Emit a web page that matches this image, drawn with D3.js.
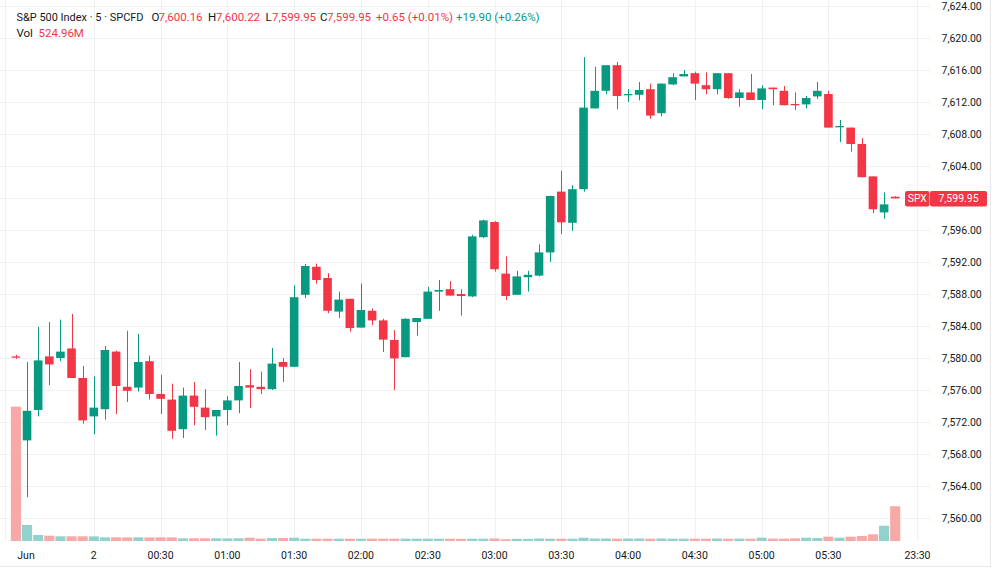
<!DOCTYPE html>
<html>
<head>
<meta charset="utf-8">
<script src="https://cdn.jsdelivr.net/npm/d3@7/dist/d3.min.js"></script>
<style>
  html, body { margin: 0; padding: 0; background: #ffffff; }
  svg { display: block; font-family: Roboto, "Noto Sans", sans-serif; }
</style>
</head>
<body>
<svg id="chart" width="1000" height="575"></svg>
<script>
// ---- DATA (5-minute bars, index 0 = previous close) ----
const opens  = [7580.2,7569.7,7573.5,7580.2,7580.0,7581.2,7577.5,7572.7,7573.6,7580.8,
                7576.4,7576.3,7579.6,7575.5,7574.8,7571.1,7575.3,7573.8,7572.7,7573.5,
                7574.7,7576.6,7576.4,7576.1,7579.5,7578.9,7587.9,7591.4,7590.0,7585.8,
                7587.4,7583.8,7585.9,7584.7,7582.25,7580.1,7584.5,7584.9,7588.3,7588.6,
                7588.0,7587.7,7595.1,7597.0,7590.55,7587.9,7590.1,7590.3,7593.2,7600.8,
                7596.9,7601.1,7611.2,7613.4,7616.6,7612.95,7612.9,7613.6,7610.6,7614.2,
                7615.2,7615.6,7614.1,7613.6,7615.6,7612.5,7613.2,7612.25,7613.8,7613.4,
                7611.75,7611.7,7612.7,7613.0,7608.95,7608.8,7606.75,7602.7,7598.2,7600.16];
const highs  = [7580.4,7579.5,7583.9,7584.5,7584.8,7585.5,7579.0,7577.7,7581.5,7580.9,
                7583.4,7583.0,7580.3,7577.9,7576.8,7576.3,7577.0,7576.1,7573.5,7575.2,
                7579.5,7578.6,7578.3,7581.25,7580.0,7589.1,7591.75,7591.8,7590.6,7588.3,
                7587.4,7589.3,7586.2,7584.9,7583.5,7584.96,7585.0,7588.9,7589.75,7589.6,
                7588.6,7595.4,7597.3,7597.1,7592.7,7590.9,7590.9,7594.2,7600.3,7603.4,
                7601.6,7617.6,7616.4,7616.6,7617.0,7613.6,7614.5,7614.3,7614.3,7615.6,
                7616.0,7615.8,7615.7,7615.6,7615.6,7613.6,7615.5,7614.1,7613.8,7614.0,
                7613.2,7612.75,7614.5,7613.4,7609.75,7608.8,7607.5,7602.7,7600.7,7600.22];
const lows   = [7579.9,7562.6,7572.7,7576.6,7579.6,7577.5,7571.8,7570.5,7572.3,7573.0,
                7574.5,7575.8,7574.8,7573.0,7569.9,7570.0,7571.6,7571.0,7570.3,7571.6,
                7573.1,7573.75,7575.5,7576.0,7577.0,7578.9,7587.5,7589.3,7585.6,7585.0,
                7583.3,7583.8,7584.1,7580.75,7576.0,7580.1,7582.8,7584.9,7585.9,7587.8,
                7585.3,7587.6,7595.0,7590.8,7587.25,7587.9,7588.3,7590.2,7592.0,7595.5,
                7595.9,7600.8,7611.2,7613.0,7611.1,7612.0,7612.2,7609.9,7610.2,7614.1,
                7615.2,7612.25,7612.96,7612.96,7612.4,7611.4,7612.25,7611.1,7611.6,7611.6,
                7611.0,7611.2,7612.4,7608.8,7607.0,7605.8,7602.6,7598.1,7597.4,7599.95];
const closes = [7580.05,7573.4,7579.7,7579.2,7580.8,7577.5,7572.2,7573.8,7581.0,7576.5,
                7575.9,7579.5,7575.5,7574.9,7570.9,7575.3,7573.9,7572.6,7573.5,7574.7,
                7576.5,7576.3,7576.1,7579.3,7578.9,7587.6,7591.5,7589.75,7585.9,7587.3,
                7583.75,7586.0,7584.7,7582.3,7579.95,7584.9,7585.0,7588.3,7588.5,7587.8,
                7587.75,7595.2,7597.2,7591.1,7587.75,7590.2,7590.4,7593.2,7600.25,7596.96,
                7601.1,7611.3,7613.4,7616.6,7612.75,7613.0,7613.5,7610.3,7614.3,7615.1,
                7615.5,7614.3,7613.6,7615.6,7612.5,7613.2,7612.25,7613.7,7613.6,7611.6,
                7611.7,7612.5,7613.4,7608.8,7609.0,7606.75,7602.6,7598.6,7599.2,7599.95];
// volume in millions
const volumes = [2030,242,91,80,71,71,71,70,56,56,
                 55,56,55,56,55,41,41,40,41,40,
                 41,50,35,45,45,50,35,35,35,35,
                 35,35,35,35,35,35,35,35,35,35,
                 33,35,35,38,26,33,33,38,35,35,
                 35,50,38,38,36,38,38,36,38,35,
                 35,35,35,38,35,36,35,50,36,36,
                 40,50,45,65,50,65,76,101,231,524.96];
const yTicks = [7560,7564,7568,7572,7576,7580,7584,7588,7592,7596,7600,7604,7608,7612,7616,7620,7624];
const xTickIdx = [-1,7,13,19,25,31,37,43,49,55,61,67,73,81];
const xTickLabels = ["Jun","2","00:30","01:00","01:30","02:00","02:30","03:00","03:30","04:00","04:30","05:00","05:30","23:30"];

const UP = "#089981", DOWN = "#F23645";
const UPV = "#92d2cc", DOWNV = "#f7a9a7";
const TXT = "#131722", GRID = "#eff1f5";

const svg = d3.select("#chart");
const n = closes.length;
const x = d3.scaleLinear().domain([0, n - 1]).range([15.9, 895.2]);
const step = x(1) - x(0);
const y = d3.scaleLinear().domain([7560, 7624]).range([518, 6]);
const yv = d3.scaleLinear().domain([0, 2000]).range([541, 408.7]);

const bars = d3.range(n).map(i => ({i, o: opens[i], h: highs[i], l: lows[i], c: closes[i], v: volumes[i], up: closes[i] >= opens[i]}));

// grid
const g = svg.append("g");
g.selectAll("line.h").data(yTicks).join("line")
  .attr("x1", 0).attr("x2", 930)
  .attr("y1", d => Math.round(y(d)) + 0.5).attr("y2", d => Math.round(y(d)) + 0.5)
  .attr("stroke", GRID).attr("stroke-width", 1);
g.selectAll("line.v").data(xTickIdx).join("line")
  .attr("x1", d => Math.round(x(d)) + 0.5).attr("x2", d => Math.round(x(d)) + 0.5)
  .attr("y1", 0).attr("y2", 541)
  .attr("stroke", GRID).attr("stroke-width", 1);

// frame
svg.append("line").attr("x1", 0).attr("x2", 990.5).attr("y1", 566.5).attr("y2", 566.5).attr("stroke", "#e6e8ee");
svg.append("line").attr("x1", 990.5).attr("x2", 990.5).attr("y1", 0).attr("y2", 566.5).attr("stroke", "#e6e8ee");

// volume
svg.append("g").selectAll("rect").data(bars).join("rect")
  .attr("x", d => x(d.i) - step / 2 + 0.5)
  .attr("width", step - 1)
  .attr("y", d => yv(d.v))
  .attr("height", d => yv(0) - yv(d.v))
  .attr("fill", d => d.up ? UPV : DOWNV);

// candles
const cg = svg.append("g");
cg.selectAll("line").data(bars).join("line")
  .attr("x1", d => Math.round(x(d.i)) + 0.5).attr("x2", d => Math.round(x(d.i)) + 0.5)
  .attr("y1", d => y(d.h)).attr("y2", d => y(d.l))
  .attr("stroke", d => d.up ? UP : DOWN).attr("stroke-width", 1);
const bw = 8.6;
cg.selectAll("rect").data(bars).join("rect")
  .attr("x", d => x(d.i) - bw / 2)
  .attr("width", bw)
  .attr("y", d => y(Math.max(d.o, d.c)))
  .attr("height", d => Math.max(1.3, Math.abs(y(d.o) - y(d.c))))
  .attr("fill", d => d.up ? UP : DOWN);

const last = closes[n - 1];
const ly = y(last);

// y axis labels (hidden where the last-price label covers them)
svg.append("g").selectAll("text").data(yTicks.filter(d => Math.abs(y(d) - ly) > 12)).join("text")
  .attr("x", 941.5).attr("y", d => y(d))
  .attr("dy", "0.35em")
  .attr("font-size", 10.5).attr("fill", TXT)
  .text(d => d3.format(",.2f")(d));

// x axis labels
svg.append("g").selectAll("text").data(xTickIdx).join("text")
  .attr("x", (d, k) => k === 0 ? 26 : x(d))
  .attr("y", 555).attr("dy", "0.35em")
  .attr("text-anchor", "middle")
  .attr("font-size", 10.5).attr("fill", TXT)
  .text((d, k) => xTickLabels[k]);

// last price label
svg.append("rect").attr("x", 905).attr("y", ly - 7.5).attr("width", 24.5).attr("height", 15.5).attr("rx", 2).attr("fill", DOWN);
svg.append("rect").attr("x", 930).attr("y", ly - 7.5).attr("width", 57).attr("height", 15.5).attr("rx", 2).attr("fill", DOWN);
svg.append("text").attr("x", 917.3).attr("y", ly).attr("dy", "0.35em").attr("text-anchor", "middle")
  .attr("font-size", 10.5).attr("fill", "#fff").text("SPX");
svg.append("text").attr("x", 958.5).attr("y", ly).attr("dy", "0.35em").attr("text-anchor", "middle")
  .attr("font-size", 10.5).attr("fill", "#fff").text(d3.format(",.2f")(last));

// header legend
const hdr = [
  {x: 16.5, t: "S&P 500 Index · 5 · SPCFD", c: TXT, w: 127},
  {x: 151.5, t: "O", c: TXT}, {x: 158.5, t: d3.format(",.2f")(opens[n-1]), c: DOWN},
  {x: 208, t: "H", c: TXT}, {x: 216, t: d3.format(",.2f")(highs[n-1]), c: DOWN},
  {x: 265.5, t: "L", c: TXT}, {x: 272, t: d3.format(",.2f")(lows[n-1]), c: DOWN},
  {x: 320, t: "C", c: TXT}, {x: 327, t: d3.format(",.2f")(closes[n-1]), c: DOWN},
  {x: 376, t: "+0.65 (+0.01%)", c: DOWN},
  {x: 456, t: "+19.90 (+0.26%)", c: UP}
];
svg.append("g").selectAll("text").data(hdr).join("text")
  .attr("x", d => d.x).attr("y", 16.7).attr("dy", "0.35em")
  .attr("font-size", 11.5).attr("fill", d => d.c)
  .each(function(d) { if (d.w) d3.select(this).attr("textLength", d.w).attr("lengthAdjust", "spacingAndGlyphs"); })
  .text(d => d.t);
svg.append("text").attr("x", 16.5).attr("y", 33.3).attr("dy", "0.35em")
  .attr("font-size", 11.5).attr("fill", TXT).text("Vol");
svg.append("text").attr("x", 38.5).attr("y", 33.3).attr("dy", "0.35em")
  .attr("font-size", 11.5).attr("fill", DOWN).text("524.96M");
</script>
</body>
</html>
